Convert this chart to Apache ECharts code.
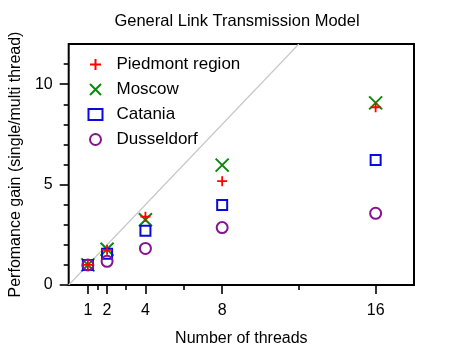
<!DOCTYPE html>
<html>
<head>
<meta charset="utf-8">
<script src="https://cdn.jsdelivr.net/npm/echarts@6/dist/echarts.min.js"></script>
<style>html,body{margin:0;padding:0;background:#fff}#c{width:474px;height:355px}</style>
</head>
<body>
<div id="c"></div>
<script>
var threads = [1, 2, 4, 8, 16];
var piedmont = [1.0, 1.75, 3.4, 5.17, 8.85];
var moscow = [1.0, 1.78, 3.25, 5.97, 9.07];
var catania = [1.0, 1.56, 2.7, 3.98, 6.22];
var dusseldorf = [1.0, 1.18, 1.82, 2.86, 3.57];
var xMajorTicks = [1, 2, 4, 8, 16];
var xMinorTicks = [1.5, 3, 6, 12];
var yMajorTicks = [0, 5, 10];
var yMinorTicks = [1, 2, 3, 4, 6, 7, 8, 9, 11];
var idealLine = [[0, 0], [12, 12]];

function pts(ys) { return threads.map(function (t, i) { return [t, ys[i]]; }); }
var FONT = 'Liberation Sans';

var chart = echarts.init(document.getElementById('c'), null, {renderer: 'canvas'});
chart.setOption({
  animation: false,
  backgroundColor: '#fff',
  textStyle: {fontFamily: FONT},
  title: {
    text: 'General Link Transmission Model',
    left: 'center', top: 8,
    textStyle: {fontFamily: FONT, fontSize: 16.5, fontWeight: 'normal', color: '#000'}
  },
  legend: {
    orient: 'vertical', left: 81, top: 51,
    itemWidth: 14, itemHeight: 11, itemGap: 8,
    data: ['Piedmont region', 'Moscow', 'Catania', 'Dusseldorf'],
    textStyle: {fontFamily: FONT, fontSize: 17, color: '#000', padding: [0, 0, 0, 9]}
  },
  grid: {left: 68, right: 60, top: 44, bottom: 70, show: true, borderColor: '#000', borderWidth: 2, backgroundColor: 'transparent'},
  xAxis: [{
    type: 'value', min: 0, max: 18, name: 'Number of threads', nameLocation: 'middle', nameGap: 46,
    nameTextStyle: {fontFamily: FONT, fontSize: 16, color: '#000'},
    axisLine: {show: false}, splitLine: {show: false},
    axisTick: {show: true, customValues: xMajorTicks, length: 9, lineStyle: {color: '#000', width: 1.6}},
    axisLabel: {customValues: xMajorTicks, margin: 18, fontFamily: FONT, fontSize: 16, color: '#000'}
  }, {
    type: 'value', min: 0, max: 18, position: 'bottom',
    axisLine: {show: false}, splitLine: {show: false},
    axisTick: {show: true, customValues: xMinorTicks, length: 5, lineStyle: {color: '#000', width: 1.6}},
    axisLabel: {show: false}
  }],
  yAxis: [{
    type: 'value', min: 0, max: 12, name: 'Perfomance gain (single/multi thread)', nameLocation: 'middle', nameGap: 39,
    nameTextStyle: {fontFamily: FONT, fontSize: 16, color: '#000'},
    axisLine: {show: false}, splitLine: {show: false},
    axisTick: {show: true, customValues: yMajorTicks, length: 9, lineStyle: {color: '#000', width: 1.6}},
    axisLabel: {customValues: yMajorTicks, margin: 16, fontFamily: FONT, fontSize: 16, color: '#000'}
  }, {
    type: 'value', min: 0, max: 12, position: 'left',
    axisLine: {show: false}, splitLine: {show: false},
    axisTick: {show: true, customValues: yMinorTicks, length: 5, lineStyle: {color: '#000', width: 1.6}},
    axisLabel: {show: false}
  }],
  series: [{
    type: 'line', data: idealLine, symbol: 'none', silent: true, z: 1,
    lineStyle: {color: '#c8c8c8', width: 1.2}
  }, {
    name: 'Piedmont region', type: 'scatter', data: pts(piedmont), z: 3,
    symbol: 'path://M5,0L5,10M0,5L10,5', symbolSize: 10,
    itemStyle: {color: 'none', borderColor: '#ff0000', borderWidth: 1.8, opacity: 1}
  }, {
    name: 'Moscow', type: 'scatter', data: pts(moscow), z: 2,
    symbol: 'path://M0,0L10,10M10,0L0,10', symbolSize: 13,
    itemStyle: {color: 'none', borderColor: '#0a8a0a', borderWidth: 2, opacity: 1}
  }, {
    name: 'Catania', type: 'scatter', data: pts(catania), z: 2,
    symbol: 'rect', symbolSize: 10,
    itemStyle: {color: 'none', borderColor: '#0a0ae0', borderWidth: 2, opacity: 1}
  }, {
    name: 'Dusseldorf', type: 'scatter', data: pts(dusseldorf), z: 2,
    symbol: 'circle', symbolSize: 11,
    itemStyle: {color: 'none', borderColor: '#85158f', borderWidth: 2, opacity: 1}
  }]
});
</script>
</body>
</html>
